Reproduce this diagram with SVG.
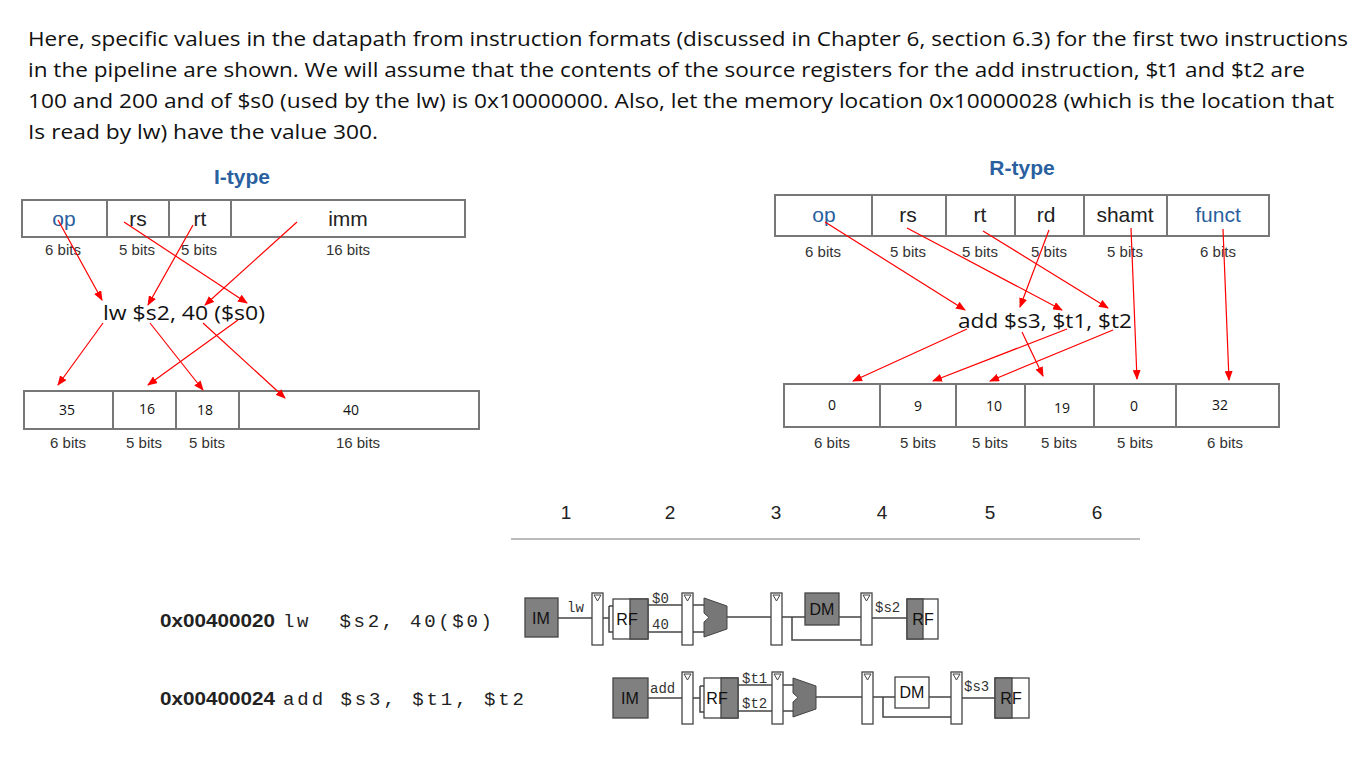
<svg xmlns="http://www.w3.org/2000/svg" width="1356" height="774" viewBox="0 0 1356 774">
<defs>
<marker id="ah" markerWidth="10" markerHeight="8" refX="9" refY="4" orient="auto" markerUnits="userSpaceOnUse"><path d="M0,0 L10,4 L0,8 z" fill="#ff0000"/></marker>
<g id="preg"><rect x="0" y="0" width="11" height="52" fill="#fff" stroke="#444" stroke-width="1.3"/><path d="M2,2 L9,2 L5.5,8 z" fill="#fff" stroke="#444"/></g>
<path id="alu" d="M0,0 L23,8 L23,31 L0,39 L0,24 L5,19.5 L0,15 z" fill="#777" stroke="#444"/>
</defs>
<style>
.p{font-family:"Open Sans","Liberation Sans",sans-serif;font-size:20px;fill:#111}
.f{font-family:"Liberation Sans",Arial,sans-serif;font-size:21px;fill:#222}
.b{font-family:"Liberation Sans",Arial,sans-serif;font-size:15px;fill:#333}
.v{font-family:"Open Sans","Liberation Sans",sans-serif;font-size:14px;fill:#111}
.box{fill:#fff;stroke:#777;stroke-width:2}
.dv{stroke:#777;stroke-width:2}
.a{stroke:#ff0000;stroke-width:1.2;fill:none;marker-end:url(#ah)}
.w{stroke:#444;stroke-width:1.5;fill:none}
.m{font-family:"Liberation Mono","Courier New",monospace;font-size:14px;fill:#333}
.c{font-family:"Liberation Mono","Courier New",monospace;font-size:19px;fill:#222}
.n{font-family:"Liberation Sans",Arial,sans-serif;font-size:19px;fill:#222}
.g{fill:#808080;stroke:#444;stroke-width:1.3}
.u{font-family:"Liberation Sans",Arial,sans-serif;font-size:16px;fill:#111}
.h{font-family:"Liberation Sans",Arial,sans-serif;font-size:18px;font-weight:bold;fill:#222}
</style>
<g id="intro">
<text class="p" x="28" y="46" textLength="1320" lengthAdjust="spacingAndGlyphs">Here, specific values in the datapath from instruction formats (discussed in Chapter 6, section 6.3) for the first two instructions</text>
<text class="p" x="28" y="77" textLength="1277" lengthAdjust="spacingAndGlyphs">in the pipeline are shown. We will assume that the contents of the source registers for the add instruction, $t1 and $t2 are</text>
<text class="p" x="28" y="108" textLength="1306" lengthAdjust="spacingAndGlyphs">100 and 200 and of $s0 (used by the lw) is 0x10000000. Also, let the memory location 0x10000028 (which is the location that</text>
<text class="p" x="28" y="139" textLength="350" lengthAdjust="spacingAndGlyphs">Is read by lw) have the value 300.</text>
</g>
<g id="itype">
<text x="242" y="184" text-anchor="middle" style="font-family:'Liberation Sans',Arial,sans-serif;font-size:21px;font-weight:bold;fill:#2a5fa0">I-type</text>
<rect class="box" x="22" y="200" width="443" height="37"/>
<line class="dv" x1="107" y1="200" x2="107" y2="237"/><line class="dv" x1="169" y1="200" x2="169" y2="237"/><line class="dv" x1="231" y1="200" x2="231" y2="237"/>
<text class="f" x="64" y="226" text-anchor="middle" style="fill:#2a5fa0">op</text>
<text class="f" x="138" y="226" text-anchor="middle">rs</text>
<text class="f" x="200" y="226" text-anchor="middle">rt</text>
<text class="f" x="348" y="226" text-anchor="middle">imm</text>
<text class="b" x="63" y="255" text-anchor="middle">6 bits</text><text class="b" x="137" y="255" text-anchor="middle">5 bits</text><text class="b" x="199" y="255" text-anchor="middle">5 bits</text><text class="b" x="348" y="255" text-anchor="middle">16 bits</text>
<text class="p" x="103" y="320" textLength="162" lengthAdjust="spacingAndGlyphs">lw $s2, 40 ($s0)</text>
<rect class="box" x="24" y="391" width="455" height="38"/>
<line class="dv" x1="113" y1="391" x2="113" y2="429"/><line class="dv" x1="176" y1="391" x2="176" y2="429"/><line class="dv" x1="239" y1="391" x2="239" y2="429"/>
<text class="v" x="67" y="415" text-anchor="middle">35</text><text class="v" x="147" y="414" text-anchor="middle">16</text><text class="v" x="205" y="415" text-anchor="middle">18</text><text class="v" x="351" y="415" text-anchor="middle">40</text>
<text class="b" x="68" y="448" text-anchor="middle">6 bits</text><text class="b" x="144" y="448" text-anchor="middle">5 bits</text><text class="b" x="207" y="448" text-anchor="middle">5 bits</text><text class="b" x="358" y="448" text-anchor="middle">16 bits</text>
</g>
<g id="rtype">
<text x="1022" y="175" text-anchor="middle" style="font-family:'Liberation Sans',Arial,sans-serif;font-size:21px;font-weight:bold;fill:#2a5fa0">R-type</text>
<rect class="box" x="775" y="195" width="494" height="41"/>
<line class="dv" x1="872" y1="195" x2="872" y2="236"/><line class="dv" x1="946" y1="195" x2="946" y2="236"/><line class="dv" x1="1015" y1="195" x2="1015" y2="236"/><line class="dv" x1="1084" y1="195" x2="1084" y2="236"/><line class="dv" x1="1167" y1="195" x2="1167" y2="236"/>
<text class="f" x="824" y="222" text-anchor="middle" style="fill:#2a5fa0">op</text>
<text class="f" x="908" y="222" text-anchor="middle">rs</text>
<text class="f" x="980" y="222" text-anchor="middle">rt</text>
<text class="f" x="1046" y="222" text-anchor="middle">rd</text>
<text class="f" x="1125" y="222" text-anchor="middle">shamt</text>
<text class="f" x="1218" y="222" text-anchor="middle" style="fill:#2a5fa0">funct</text>
<text class="b" x="823" y="257" text-anchor="middle">6 bits</text><text class="b" x="908" y="257" text-anchor="middle">5 bits</text><text class="b" x="980" y="257" text-anchor="middle">5 bits</text><text class="b" x="1049" y="257" text-anchor="middle">5 bits</text><text class="b" x="1125" y="257" text-anchor="middle">5 bits</text><text class="b" x="1218" y="257" text-anchor="middle">6 bits</text>
<text class="p" x="958" y="328" textLength="174" lengthAdjust="spacingAndGlyphs">add $s3, $t1, $t2</text>
<rect class="box" x="784" y="384" width="495" height="43"/>
<line class="dv" x1="880" y1="384" x2="880" y2="427"/><line class="dv" x1="956" y1="384" x2="956" y2="427"/><line class="dv" x1="1025" y1="384" x2="1025" y2="427"/><line class="dv" x1="1094" y1="384" x2="1094" y2="427"/><line class="dv" x1="1176" y1="384" x2="1176" y2="427"/>
<text class="v" x="832" y="410" text-anchor="middle">0</text><text class="v" x="918" y="411" text-anchor="middle">9</text><text class="v" x="994" y="411" text-anchor="middle">10</text><text class="v" x="1062" y="413" text-anchor="middle">19</text><text class="v" x="1134" y="411" text-anchor="middle">0</text><text class="v" x="1220" y="410" text-anchor="middle">32</text>
<text class="b" x="832" y="448" text-anchor="middle">6 bits</text><text class="b" x="918" y="448" text-anchor="middle">5 bits</text><text class="b" x="990" y="448" text-anchor="middle">5 bits</text><text class="b" x="1059" y="448" text-anchor="middle">5 bits</text><text class="b" x="1135" y="448" text-anchor="middle">5 bits</text><text class="b" x="1225" y="448" text-anchor="middle">6 bits</text>
</g>
<g id="connectors">
<line class="a" x1="58" y1="220" x2="102" y2="300"/>
<line class="a" x1="124" y1="222" x2="247" y2="303"/>
<line class="a" x1="193" y1="225" x2="148" y2="305"/>
<line class="a" x1="297" y1="222" x2="205" y2="305"/>
<line class="a" x1="103" y1="323" x2="58" y2="385"/>
<line class="a" x1="150" y1="323" x2="203" y2="390"/>
<line class="a" x1="238" y1="320" x2="148" y2="385"/>
<line class="a" x1="203" y1="323" x2="285" y2="398"/>
<line class="a" x1="825" y1="222" x2="965" y2="310"/>
<line class="a" x1="907" y1="228" x2="1062" y2="310"/>
<line class="a" x1="983" y1="231" x2="1108" y2="308"/>
<line class="a" x1="1049" y1="230" x2="1020" y2="307"/>
<line class="a" x1="1131" y1="228" x2="1137" y2="379"/>
<line class="a" x1="1223" y1="229" x2="1229" y2="380"/>
<line class="a" x1="967" y1="329" x2="853" y2="381"/>
<line class="a" x1="1067" y1="329" x2="933" y2="381"/>
<line class="a" x1="1113" y1="330" x2="990" y2="381"/>
<line class="a" x1="1022" y1="332" x2="1043" y2="376"/>
</g>
<g id="stages">
<text class="n" x="566" y="519" text-anchor="middle">1</text><text class="n" x="670" y="519" text-anchor="middle">2</text><text class="n" x="776" y="519" text-anchor="middle">3</text><text class="n" x="882" y="519" text-anchor="middle">4</text><text class="n" x="990" y="519" text-anchor="middle">5</text><text class="n" x="1097" y="519" text-anchor="middle">6</text>
<line x1="511" y1="539" x2="1140" y2="539" stroke="#bbb" stroke-width="2"/>
</g>
<g id="code">
<text class="h" x="160" y="627" textLength="115" lengthAdjust="spacingAndGlyphs">0x00400020</text>
<text class="c" x="283" y="627" textLength="209" lengthAdjust="spacing" xml:space="preserve">lw  $s2, 40($0)</text>
<text class="h" x="160" y="705" textLength="115" lengthAdjust="spacingAndGlyphs">0x00400024</text>
<text class="c" x="283" y="705" textLength="241" lengthAdjust="spacing" xml:space="preserve">add $s3, $t1, $t2</text>
</g>
<g id="pipe1">
<line class="w" x1="558" y1="618" x2="592" y2="618"/>
<rect class="g" x="525" y="598" width="33" height="39"/><text class="u" x="541" y="624" text-anchor="middle">IM</text>
<text class="m" x="567" y="612">lw</text>
<use href="#preg" x="592" y="593"/>
<path class="w" d="M603,618 L609,618 M609,606 L609,632 L613,632 M609,606 L613,606"/>
<rect x="613" y="599" width="35" height="40" fill="#fff" stroke="#444" stroke-width="1.3"/><rect x="630" y="599" width="18" height="40" fill="#808080" stroke="#444" stroke-width="1.3"/>
<text class="u" x="627" y="625" text-anchor="middle">RF</text>
<line class="w" x1="648" y1="605" x2="682" y2="605"/><line class="w" x1="648" y1="632" x2="682" y2="632"/>
<text class="m" x="652" y="603">$0</text><text class="m" x="652" y="629">40</text>
<use href="#preg" x="682" y="593"/>
<line class="w" x1="693" y1="605" x2="704" y2="605"/><line class="w" x1="693" y1="632" x2="704" y2="632"/>
<use href="#alu" x="704" y="598"/>
<line class="w" x1="727" y1="617" x2="771" y2="617"/>
<use href="#preg" x="771" y="593"/>
<path class="w" d="M782,617 L805,617 M792,617 L792,640 L861,640"/>
<rect class="g" x="805" y="593" width="34" height="32"/><text class="u" x="822" y="615" text-anchor="middle">DM</text>
<line class="w" x1="839" y1="617" x2="861" y2="617"/>
<use href="#preg" x="861" y="593"/>
<line class="w" x1="872" y1="618" x2="907" y2="618"/>
<text class="m" x="875" y="612">$s2</text>
<rect x="907" y="599" width="31" height="40" fill="#fff" stroke="#444" stroke-width="1.3"/><rect x="907" y="599" width="16" height="40" fill="#808080" stroke="#444" stroke-width="1.3"/>
<text class="u" x="923" y="625" text-anchor="middle">RF</text>
</g>
<g id="pipe2">
<line class="w" x1="648" y1="698" x2="682" y2="698"/>
<rect class="g" x="613" y="678" width="35" height="40"/><text class="u" x="630" y="704" text-anchor="middle">IM</text>
<text class="m" x="650" y="693">add</text>
<use href="#preg" x="682" y="672"/>
<path class="w" d="M693,698 L700,698 M700,686 L700,712 L704,712 M700,686 L704,686"/>
<rect x="704" y="678" width="34" height="40" fill="#fff" stroke="#444" stroke-width="1.3"/><rect x="721" y="678" width="17" height="40" fill="#808080" stroke="#444" stroke-width="1.3"/>
<text class="u" x="717" y="704" text-anchor="middle">RF</text>
<line class="w" x1="738" y1="685" x2="772" y2="685"/><line class="w" x1="738" y1="711" x2="772" y2="711"/>
<text class="m" x="742" y="683">$t1</text><text class="m" x="742" y="708">$t2</text>
<use href="#preg" x="772" y="672"/>
<line class="w" x1="783" y1="685" x2="793" y2="685"/><line class="w" x1="783" y1="711" x2="793" y2="711"/>
<use href="#alu" x="793" y="678"/>
<line class="w" x1="816" y1="697" x2="862" y2="697"/>
<use href="#preg" x="862" y="672"/>
<path class="w" d="M873,697 L895,697 M883,697 L883,717 L951,717"/>
<rect x="895" y="677" width="34" height="31" fill="#fff" stroke="#444" stroke-width="1.3"/><text class="u" x="912" y="698" text-anchor="middle">DM</text>
<line class="w" x1="929" y1="697" x2="951" y2="697"/>
<use href="#preg" x="951" y="672"/>
<line class="w" x1="962" y1="698" x2="995" y2="698"/>
<text class="m" x="964" y="691">$s3</text>
<rect x="995" y="678" width="34" height="40" fill="#fff" stroke="#444" stroke-width="1.3"/><rect x="995" y="678" width="17" height="40" fill="#808080" stroke="#444" stroke-width="1.3"/>
<text class="u" x="1011" y="704" text-anchor="middle">RF</text>
</g>
</svg>
